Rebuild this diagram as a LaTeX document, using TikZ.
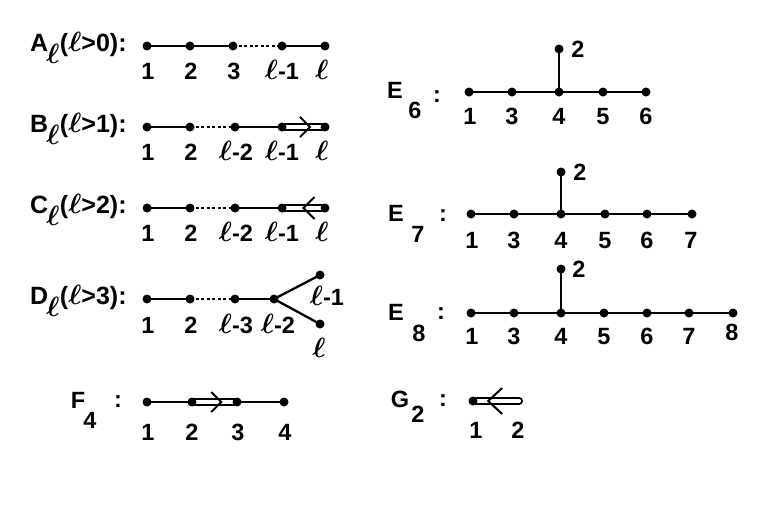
\documentclass[tikz,border=0pt]{standalone}
\usepackage{fontspec}
\usepackage{bm}
\setmainfont{Liberation Sans}
\usetikzlibrary{backgrounds,calc}
\newcommand{\el}{\scalebox{1.12}{$\bm{\ell}$}}
\begin{document}
\begin{tikzpicture}[x=1pt,y=-1pt,
  dot/.style={circle,fill=black,inner sep=0pt,minimum size=9pt},
  txt/.style={inner sep=0pt,font=\fontsize{23.5}{27}\selectfont\bfseries},
  lbl/.style={txt,anchor=base,yshift=-8.4pt},
  colon/.style={txt},
  ttl/.style={inner sep=0pt,anchor=west,font=\fontsize{25}{29}\selectfont\bfseries},
  edge/.style={line width=2.3pt},
  dotline/.style={line width=2.3pt,dash pattern=on 3pt off 2.5pt},
  dbl/.style={line width=2pt,double=white,double distance=4pt,line cap=round},
  chev/.style={line width=2pt}]
\useasboundingbox (0,0) rectangle (768,507);
% ---------- A ----------
\node[ttl] (At) at (30,48) {A\kern-2pt\raisebox{-12pt}{\el}\kern0.5pt(\el>0):};
\node[dot] (a1) at (147,46) {};
\node[dot] (a2) at (190,46) {};
\node[dot] (a3) at (233,46) {};
\node[dot] (a4) at (282,46) {};
\node[dot] (a5) at (325,46) {};
\node[lbl] (la1) at (148,71) {1};
\node[lbl] (la2) at (191,71) {2};
\node[lbl] (la3) at (234,71) {3};
\node[lbl] (la4) at (282,71) {\el-1};
\node[lbl] (la5) at (322,71) {\el};
% ---------- B ----------
\node[ttl] (Bt) at (30,129) {B\kern-2pt\raisebox{-12pt}{\el}\kern0.5pt(\el>1):};
\node[dot] (b1) at (147,127) {};
\node[dot] (b2) at (190,127) {};
\node[dot] (b3) at (235,127) {};
\node[dot] (b4) at (282,127) {};
\node[dot] (b5) at (325,127) {};
\node[lbl] (lb1) at (148,152) {1};
\node[lbl] (lb2) at (191,152) {2};
\node[lbl] (lb3) at (236,152) {\el-2};
\node[lbl] (lb4) at (282,152) {\el-1};
\node[lbl] (lb5) at (322,152) {\el};
% ---------- C ----------
\node[ttl] (Ct) at (30,210) {C\kern-2pt\raisebox{-12pt}{\el}\kern0.5pt(\el>2):};
\node[dot] (c1) at (147,208) {};
\node[dot] (c2) at (190,208) {};
\node[dot] (c3) at (235,208) {};
\node[dot] (c4) at (282,208) {};
\node[dot] (c5) at (325,208) {};
\node[lbl] (lc1) at (148,233) {1};
\node[lbl] (lc2) at (191,233) {2};
\node[lbl] (lc3) at (236,233) {\el-2};
\node[lbl] (lc4) at (282,233) {\el-1};
\node[lbl] (lc5) at (322,233) {\el};
% ---------- D ----------
\node[ttl] (Dt) at (30,301) {D\kern-2pt\raisebox{-12pt}{\el}\kern0.5pt(\el>3):};
\node[dot] (d1) at (147,299) {};
\node[dot] (d2) at (190,299) {};
\node[dot] (d3) at (235,299) {};
\node[dot] (d4) at (274,299) {};
\node[dot] (d5) at (320,275) {};
\node[dot] (d6) at (320,324) {};
\node[lbl] (ld1) at (148,325) {1};
\node[lbl] (ld2) at (191,325) {2};
\node[lbl] (ld3) at (236,325) {\el-3};
\node[lbl] (ld4) at (278,325) {\el-2};
\node[lbl] (ld5) at (327,297) {\el-1};
\node[lbl] (ld6) at (319,349) {\el};
% ---------- F4 ----------
\node[lbl] (Ft) at (78,400) {F};
\node[lbl] (Fs) at (90,420) {4};
\node[colon] (Fc) at (118,402) {:};
\node[dot] (f1) at (147,402) {};
\node[dot] (f2) at (192,402) {};
\node[dot] (f3) at (237,402) {};
\node[dot] (f4) at (284,402) {};
\node[lbl] (lf1) at (148,432) {1};
\node[lbl] (lf2) at (192,432) {2};
\node[lbl] (lf3) at (238,432) {3};
\node[lbl] (lf4) at (285,432) {4};
% ---------- E6 ----------
\node[lbl] (E6t) at (395,90) {E};
\node[lbl] (E6s) at (415,110) {6};
\node[colon] (E6c) at (437,97) {:};
\node[dot] (e61) at (469,92) {};
\node[dot] (e63) at (512,92) {};
\node[dot] (e64) at (559,92) {};
\node[dot] (e65) at (603,92) {};
\node[dot] (e66) at (646,92) {};
\node[dot] (e62) at (559,49) {};
\node[lbl] (le61) at (470,116) {1};
\node[lbl] (le63) at (512,116) {3};
\node[lbl] (le64) at (559,116) {4};
\node[lbl] (le65) at (603,116) {5};
\node[lbl] (le66) at (646,116) {6};
\node[lbl] (le62) at (578,49) {2};
% ---------- E7 ----------
\node[lbl] (E7t) at (396,213) {E};
\node[lbl] (E7s) at (418,234) {7};
\node[colon] (E7c) at (443,216) {:};
\node[dot] (e71) at (471,214) {};
\node[dot] (e73) at (514,214) {};
\node[dot] (e74) at (561,214) {};
\node[dot] (e75) at (605,214) {};
\node[dot] (e76) at (647,214) {};
\node[dot] (e77) at (692,214) {};
\node[dot] (e72) at (561,172) {};
\node[lbl] (le71) at (472,240) {1};
\node[lbl] (le73) at (514,240) {3};
\node[lbl] (le74) at (561,240) {4};
\node[lbl] (le75) at (605,240) {5};
\node[lbl] (le76) at (647,240) {6};
\node[lbl] (le77) at (691,240) {7};
\node[lbl] (le72) at (580,172) {2};
% ---------- E8 ----------
\node[lbl] (E8t) at (396,312) {E};
\node[lbl] (E8s) at (419,333) {8};
\node[colon] (E8c) at (441,314) {:};
\node[dot] (e81) at (471,313) {};
\node[dot] (e83) at (514,313) {};
\node[dot] (e84) at (561,313) {};
\node[dot] (e85) at (604,313) {};
\node[dot] (e86) at (647,313) {};
\node[dot] (e87) at (689,313) {};
\node[dot] (e88) at (733,313) {};
\node[dot] (e82) at (561,269) {};
\node[lbl] (le81) at (472,336) {1};
\node[lbl] (le83) at (514,336) {3};
\node[lbl] (le84) at (561,336) {4};
\node[lbl] (le85) at (604,336) {5};
\node[lbl] (le86) at (647,336) {6};
\node[lbl] (le87) at (689,336) {7};
\node[lbl] (le88) at (732,332) {8};
\node[lbl] (le82) at (579,269) {2};
% ---------- G2 ----------
\node[lbl] (Gt) at (400,399) {G};
\node[lbl] (Gs) at (418,414) {2};
\node[colon] (Gc) at (443,401) {:};
\node[dot] (g1) at (473,401) {};
\coordinate (g2) at (519,401);
\node[lbl] (lg1) at (476,430) {1};
\node[lbl] (lg2) at (518,430) {2};
% ---------- edges ----------
\begin{pgfonlayer}{background}
\fill[white] (0,0) rectangle (768,507);
\draw[edge] (a1.center) -- (a2.center) -- (a3.center);
\draw[dotline] (a3.center) -- (a4.center);
\draw[edge] (a4.center) -- (a5.center);
\draw[edge] (b1.center) -- (b2.center);
\draw[dotline] (b2.center) -- (b3.center);
\draw[edge] (b3.center) -- (b4.center);
\draw[dbl] (b4.center) -- (b5.center);
\draw[edge] (c1.center) -- (c2.center);
\draw[dotline] (c2.center) -- (c3.center);
\draw[edge] (c3.center) -- (c4.center);
\draw[dbl] (c4.center) -- (c5.center);
\draw[edge] (d1.center) -- (d2.center);
\draw[dotline] (d2.center) -- (d3.center);
\draw[edge] (d3.center) -- (d4.center);
\draw[edge] (d4.center) -- (d5.center);
\draw[edge] (d4.center) -- (d6.center);
\draw[edge] (f1.center) -- (f2.center);
\draw[dbl] (f2.center) -- (f3.center);
\draw[edge] (f3.center) -- (f4.center);
\draw[edge] (e61.center) -- (e63.center) -- (e64.center) -- (e65.center) -- (e66.center);
\draw[edge] (e64.center) -- (e62.center);
\draw[edge] (e71.center) -- (e73.center) -- (e74.center) -- (e75.center) -- (e76.center) -- (e77.center);
\draw[edge] (e74.center) -- (e72.center);
\draw[edge] (e81.center) -- (e83.center) -- (e84.center) -- (e85.center) -- (e86.center) -- (e87.center) -- (e88.center);
\draw[edge] (e84.center) -- (e82.center);
\draw[dbl] (g1.center) -- (g2);
\end{pgfonlayer}
% ---------- chevrons ----------
\draw[chev] ($(b4)!0.65!(b5)+(-10,-10)$) -- ++(10,10) -- ++(-10,10);
\draw[chev] ($(c4)!0.5!(c5)+(11,-11)$) -- ++(-11,11) -- ++(11,11);
\draw[chev] ($(f2)!0.65!(f3)+(-10,-10)$) -- ++(10,10) -- ++(-10,10);
\draw[chev] ($(g1)!0.33!(g2)+(14,-13)$) -- ++(-14,13) -- ++(14,13);
\end{tikzpicture}
\end{document}
